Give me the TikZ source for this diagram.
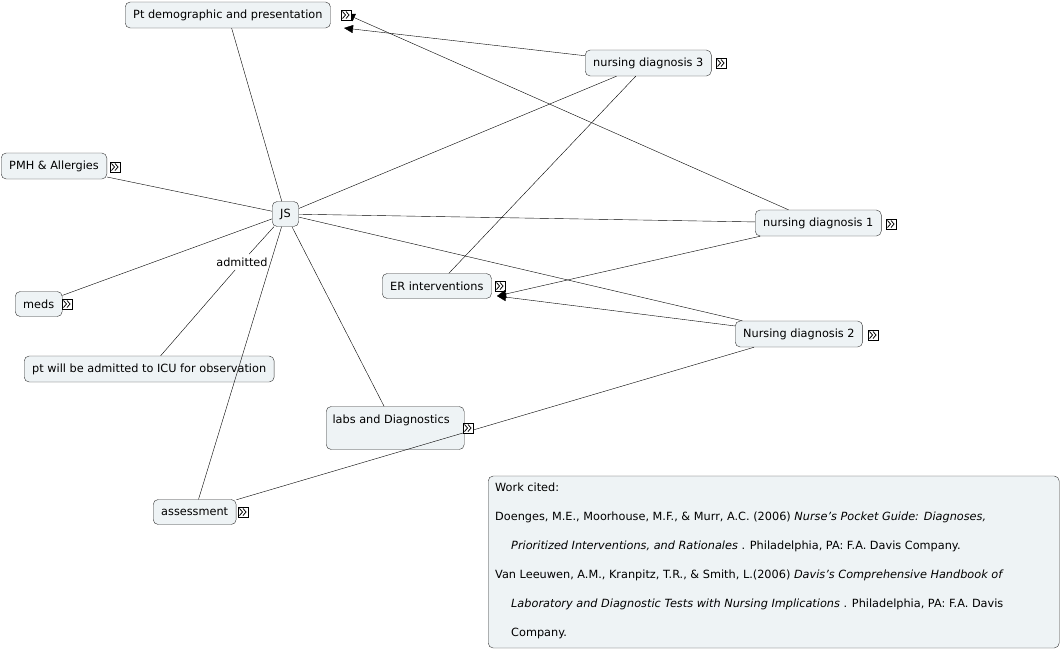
\documentclass[tikz,border=0pt]{standalone}
\usepackage{fontspec}
\setmainfont{DejaVu Sans}
\usetikzlibrary{arrows.meta}
\definecolor{cbox}{HTML}{EEF3F5}

\newcommand{\resicon}[2]{%
  \node[icon] at (#1,#2) {};
  \draw[thick] (#1-3.5,#2-3.5) -- (#1-0.5,#2) -- (#1-3.5,#2+3.5)
               (#1,#2-3.5) -- (#1+3,#2) -- (#1,#2+3.5);}

\begin{document}
\begin{tikzpicture}[x=1pt,y=-1pt,font=\fontsize{11.3}{13}\selectfont,
    concept/.style={draw=black!80,rounded corners=5pt,fill=cbox,inner xsep=8pt,
      inner ysep=0pt,minimum height=26pt,anchor=west},
    icon/.style={draw,fill=white,minimum size=10pt,inner sep=0pt},
    link/.style={draw,black},
    arrow/.style={link,-{Triangle[length=9pt,width=8pt]}}]
  \useasboundingbox (0,0) rectangle (1063,651);

  % concepts
  \node[concept] (demo) at (125,15) {Pt demographic and presentation};
  \node[concept] (nd3) at (585,63) {nursing diagnosis 3};
  \node[concept] (pmh) at (1,166) {PMH \& Allergies};
  \node[concept,minimum height=25pt] (js) at (272,214) {JS};
  \node[concept] (nd1) at (755,223) {nursing diagnosis 1};
  \node[concept,minimum height=25pt] (er) at (382,286) {ER interventions};
  \node[concept,minimum height=25pt] (meds) at (15,304) {meds};
  \node[concept] (nd2) at (735,334) {Nursing diagnosis 2};
  \node[concept] (icu) at (24,369) {pt will be admitted to ICU for observation};
  \node[concept,minimum width=138pt,minimum height=43pt] (labs) at (326,428) {};
  \node[anchor=west] at (326,420) {\hspace*{3pt}labs and Diagnostics};
  \node[concept,minimum height=25pt] (assess) at (153,512) {assessment};
  \node (adm) at (242,262) {admitted};

  % links
  \draw[link] (js) -- (demo);
  \draw[link] (js) -- (nd3);
  \draw[link] (js) -- (pmh);
  \draw[link] (js) -- (nd1);
  \draw[link] (js) -- (nd2);
  \draw[link] (js) -- (meds);
  \draw[link] (js) -- (labs);
  \draw[link] (js) -- (assess);
  \draw[link] (js) -- (adm) -- (icu);
  \draw[link] (nd3) -- (er);
  \draw[link] (nd2) -- (assess);
  \draw[arrow] (nd3) -- (344,28);
  \draw[arrow] (nd1) -- (346,14);

  % resource icons
  \resicon{346}{15}
  \resicon{721}{63}
  \resicon{115}{167}
  \resicon{891}{224}
  \resicon{500}{286}
  \resicon{67}{304}
  \resicon{873}{335}
  \resicon{468}{428}
  \resicon{243}{512}

  \draw[arrow] (nd1) -- (497,296);
  \draw[arrow] (nd2) -- (497,296);

  % work cited
  \node[concept,minimum width=571pt,minimum height=172pt] (cited) at (488,562) {};
  \node[anchor=north west,align=left,inner sep=0pt,
    font=\fontsize{11.3}{29}\selectfont] at (495,483) {%
    Work cited:\\
    Doenges, M.E., Moorhouse, M.F., \& Murr, A.C. (2006) \textit{Nurse's Pocket Guide: Diagnoses,}\\
    \hspace*{16pt}\textit{Prioritized Interventions, and Rationales} . Philadelphia, PA: F.A. Davis Company.\\
    Van Leeuwen, A.M., Kranpitz, T.R., \& Smith, L.(2006) \textit{Davis's Comprehensive Handbook of}\\
    \hspace*{16pt}\textit{Laboratory and Diagnostic Tests with Nursing Implications} . Philadelphia, PA: F.A. Davis\\
    \hspace*{16pt}Company.};
\end{tikzpicture}
\end{document}
